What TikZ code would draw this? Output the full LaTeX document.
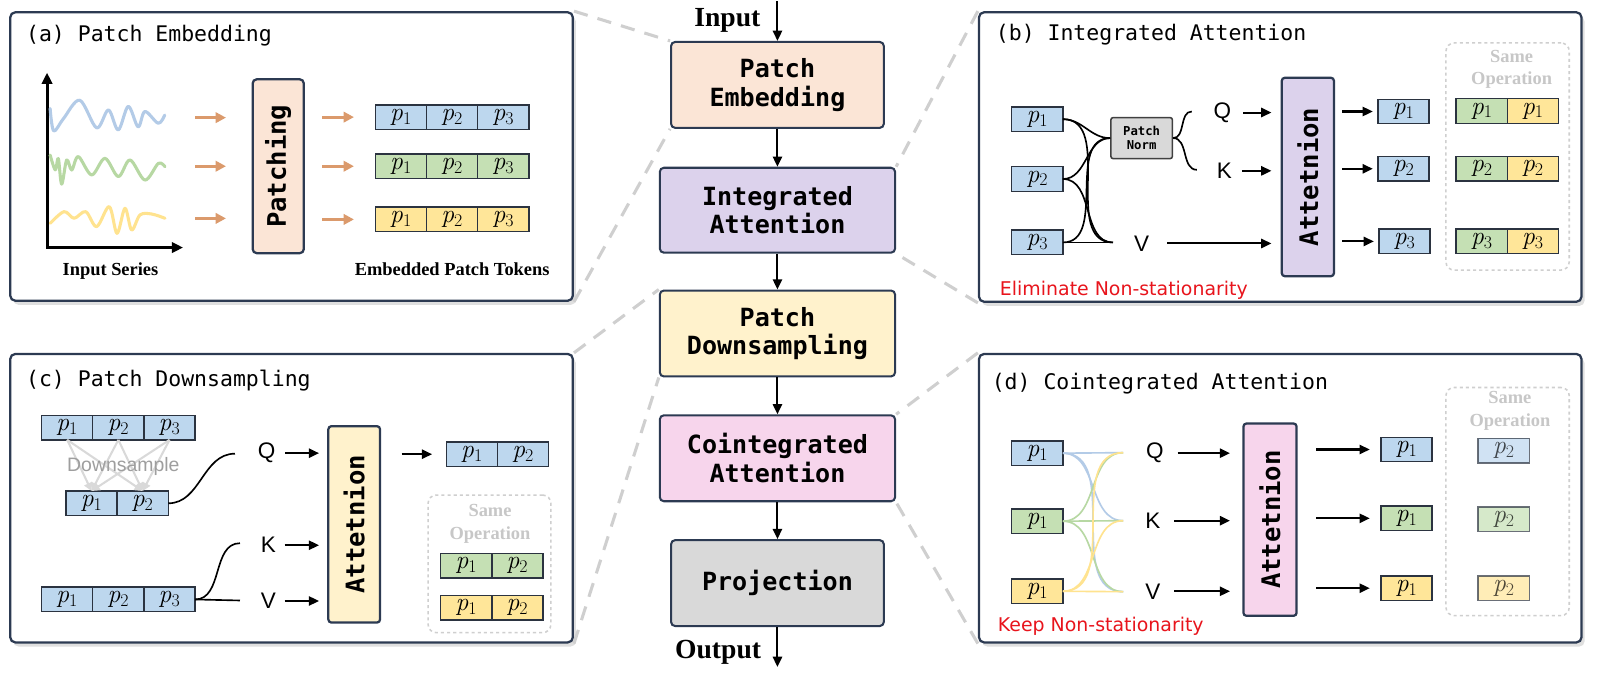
\documentclass[tikz,border=0pt]{standalone}
\usepackage{fontspec}
\usetikzlibrary{positioning,arrows.meta,shadows}

\newfontfamily\monofont{DejaVu Sans Mono}
\newfontfamily\timesfont{Liberation Serif}
\newfontfamily\arialfont{Liberation Sans}
\newfontfamily\dejafont{DejaVu Sans}

\definecolor{frame}{HTML}{2C3A52}
\definecolor{tokline}{HTML}{2B3340}
\definecolor{peach}{HTML}{FBE5D6}
\definecolor{lav}{HTML}{DCD2EC}
\definecolor{lyel}{HTML}{FFF2CC}
\definecolor{pinkc}{HTML}{F7D5EC}
\definecolor{greyc}{HTML}{D9D9D9}
\definecolor{tblue}{HTML}{BDD7EE}
\definecolor{tgreen}{HTML}{C5E0B4}
\definecolor{tyel}{HTML}{FFE699}
\definecolor{orng}{HTML}{DB9A6C}
\definecolor{wblue}{HTML}{B3CBE7}
\definecolor{wgreen}{HTML}{B7D8A3}
\definecolor{wyel}{HTML}{FFE38F}
\definecolor{dashg}{HTML}{CFCFCF}
\definecolor{redt}{HTML}{E8141C}

\newcommand{\titlefont}{\monofont\fontsize{21}{24}\selectfont}
\newcommand{\stagefont}{\monofont\bfseries\fontsize{24.5}{28}\selectfont}
\newcommand{\attnfont}{\monofont\bfseries\fontsize{25}{28}\selectfont}
\newcommand{\normfont}{\monofont\bfseries\fontsize{12}{14}\selectfont}
\newcommand{\tokfont}{\fontsize{25}{26}\selectfont}
\newcommand{\qkvfont}{\arialfont\fontsize{22}{24}\selectfont}
\newcommand{\capfont}{\timesfont\bfseries\fontsize{18}{22}\selectfont}
\newcommand{\iofont}{\timesfont\bfseries\fontsize{27}{30}\selectfont}
\newcommand{\notefont}{\dejafont\fontsize{18.5}{22}\selectfont}
\newcommand{\downfont}{\arialfont\fontsize{19}{22}\selectfont}
\newcommand{\tokp}[1]{\textit{p}\textsubscript{#1}}

\begin{document}
\begin{tikzpicture}[
    x=1pt, y=-1pt,
    panel/.style={draw=frame, line width=2.2pt, rounded corners=5pt, fill=white, inner sep=0pt,
      drop shadow={shadow xshift=3pt, shadow yshift=-4pt, opacity=0.25}},
    stage/.style={draw=frame, line width=2pt, rounded corners=4pt, font=\stagefont, align=center, inner sep=0pt},
    attn/.style={draw=frame, line width=2.2pt, rounded corners=3pt, font=\attnfont, minimum width=51pt, inner sep=0pt},
    tok/.style={draw=tokline, line width=1.4pt, minimum width=50pt, minimum height=24pt, inner sep=0pt, outer sep=0pt, font=\tokfont},
    samebox/.style={draw=dashg, dashed, line width=1.5pt, rounded corners=8pt, inner sep=0pt},
    sametext/.style={font=\capfont, text=black!22, align=center},
    title/.style={anchor=west, font=\titlefont},
    qkv/.style={font=\qkvfont},
    note/.style={anchor=base west, font=\notefont, text=redt},
    flow/.style={-{Triangle[length=10pt,width=9pt]}, line width=2pt},
    orarrow/.style={-{Triangle[length=10pt,width=10pt]}, line width=3pt, draw=orng},
    wave/.style={line width=3pt, line cap=round, line join=round},
    curve/.style={line width=1.6pt},
    link/.style={draw=dashg, line width=3pt, dash pattern=on 14pt off 10pt}
  ]
  \useasboundingbox (0,0) rectangle (1568,661);

  % panels
  \node[panel, minimum width=550pt, minimum height=282pt] (pa) at (285,153) {};
  \node[panel, minimum width=589pt, minimum height=283pt] (pb) at (1251.5,153.5) {};
  \node[panel, minimum width=550pt, minimum height=282pt] (pc) at (285,487) {};
  \node[panel, minimum width=589pt, minimum height=282pt] (pd) at (1251.5,487) {};

  % centre column
  \node[stage, fill=peach, minimum width=208pt, minimum height=84pt] (pe) at (760,83) {Patch\\Embedding};
  \node[stage, fill=lav, minimum width=230pt, minimum height=83pt] (ia) at (760,205.5) {Integrated\\Attention};
  \node[stage, fill=lyel, minimum width=230pt, minimum height=84pt] (pds) at (760,326) {Patch\\Downsampling};
  \node[stage, fill=pinkc, minimum width=230pt, minimum height=84pt] (ca) at (760,448) {Cointegrated\\Attention};
  \node[stage, fill=greyc, minimum width=208pt, minimum height=84pt] (pj) at (760,570) {Projection};
  \coordinate (in) at (760,1);
  \coordinate (out) at (760,652);
  \node[font=\iofont] (inlabel) at (711,20) {Input};
  \node[font=\iofont] (outlabel) at (702,638) {Output};
  \draw[flow] (in) -- (pe);
  \draw[flow] (pe) -- (ia);
  \draw[flow] (ia) -- (pds);
  \draw[flow] (pds) -- (ca);
  \draw[flow] (ca) -- (pj);
  \draw[flow] (pj) -- (out);

  % links to the panels
  \draw[link] (pa.north east) -- (pe.north west);
  \draw[link] (pa.south east) -- (pe.south west);
  \draw[link] (pb.north west) -- (ia.north east);
  \draw[link] (pb.south west) -- (ia.south east);
  \draw[link] (pc.north east) -- (pds.north west);
  \draw[link] (pc.south east) -- (pds.south west);
  \draw[link] (pd.north west) -- (ca.north east);
  \draw[link] (pd.south west) -- (ca.south east);

  % (a) patch embedding
  \node[title] (ta) at (22,35) {(a) Patch Embedding};
  \coordinate (ao) at (46,242);
  \coordinate (ay) at (46,71);
  \coordinate (ax) at (179,242);
  \draw[line width=3pt, {Triangle[length=11pt,width=10pt]}-{Triangle[length=11pt,width=10pt]}] (ay) -- (ao) -- (ax);
  \draw[wave, wblue] plot[smooth, tension=0.55] coordinates {(49,106) (52.5,128) (62,116) (78,98) (94.5,125) (106,107.5) (115.6,127) (125.4,104) (135,124) (141.7,109) (154.7,120.5) (161,112.5)};
  \draw[wave, wgreen] plot[smooth, tension=0.55] coordinates {(49,151.5) (54,166) (57,155) (60.3,180) (65.2,156.4) (70.1,166.2) (76.6,153.1) (89.6,171) (102.6,154.8) (115.7,172.6) (127.1,156.4) (141.7,176) (154.8,159.7) (161.3,163)};
  \draw[wave, wyel] plot[smooth, tension=0.55] coordinates {(49.1,218.3) (62.6,206.9) (72.4,213.4) (83.8,206.9) (94.5,221.5) (106.8,202) (114.4,228.1) (122.2,203.6) (128.7,224.8) (136.9,210.1) (148.2,209.2) (161.3,213.4)};
  \node[stage, fill=peach, line width=2.2pt, font=\attnfont, minimum width=50pt, minimum height=170pt] (patch) at (272,162.5) {\rotatebox{90}{Patching}};
  \node[tok, fill=tblue] (a1) at (392,114.5) {\tokp{1}};
  \node[tok, fill=tblue, right=0pt of a1] (a2) {\tokp{2}};
  \node[tok, fill=tblue, right=0pt of a2] (a3) {\tokp{3}};
  \node[tok, fill=tgreen] (a4) at (392,162.5) {\tokp{1}};
  \node[tok, fill=tgreen, right=0pt of a4] (a5) {\tokp{2}};
  \node[tok, fill=tgreen, right=0pt of a5] (a6) {\tokp{3}};
  \node[tok, fill=tyel] (a7) at (392,214.5) {\tokp{1}};
  \node[tok, fill=tyel, right=0pt of a7] (a8) {\tokp{2}};
  \node[tok, fill=tyel, right=0pt of a8] (a9) {\tokp{3}};
  \coordinate (s1) at (191,115);
  \coordinate (s2) at (191,162.5);
  \coordinate (s3) at (191,213.5);
  \draw[orarrow, shorten >=25pt] (s1) -- (s1 -| patch.west);
  \draw[orarrow, shorten >=25pt] (s2) -- (s2 -| patch.west);
  \draw[orarrow, shorten >=25pt] (s3) -- (s3 -| patch.west);
  \draw[orarrow, shorten <=17pt, shorten >=21pt] (patch.east |- a1) -- (a1.west);
  \draw[orarrow, shorten <=17pt, shorten >=21pt] (patch.east |- a4) -- (a4.west);
  \draw[orarrow, shorten <=17pt, shorten >=21pt] (patch.east |- a7) -- (a7.west);
  \node[font=\capfont] (series) at (108,265) {Input Series};
  \node[font=\capfont] (tokens) at (442,263) {Embedded Patch Tokens};

  % (b) integrated attention
  \node[title] (tb) at (970,34) {(b) Integrated Attention};
  \node[tok, fill=tblue] (b1) at (1014,116.5) {\tokp{1}};
  \node[tok, fill=tblue] (b2) at (1014,175) {\tokp{2}};
  \node[tok, fill=tblue] (b3) at (1014,237) {\tokp{3}};
  \node[draw=black!75, fill=greyc, line width=1.5pt, rounded corners=2pt, font=\normfont, align=center,
    minimum width=60pt, minimum height=40pt, inner sep=0pt] (norm) at (1116,135) {Patch\\Norm};
  \coordinate (vin) at (1088,237);
  \coordinate (bq) at (1165,109);
  \coordinate (bk) at (1170,166);
  \draw[curve] (b1.east) to[out=0, in=180] (norm.west);
  \draw[curve] (b2.east) to[out=0, in=180] (norm.west);
  \draw[curve] (b3.east) to[out=0, in=180] (norm.west);
  \draw[curve] (b1.east) to[out=0, in=180] (vin);
  \draw[curve] (b2.east) to[out=0, in=180] (vin);
  \draw[curve] (b3.east) -- (vin);
  \draw[curve] (norm.east) to[out=0, in=180] (bq);
  \draw[curve] (norm.east) to[out=0, in=180] (bk);
  \node[qkv] (qb) at (1195,110) {Q};
  \node[qkv] (kb) at (1197,167) {K};
  \node[qkv] (vb) at (1116,238) {V};
  \node[attn, fill=lav, minimum height=194pt] (attb) at (1278.5,173) {\rotatebox{90}{Attetnion}};
  \draw[flow, shorten <=8pt, shorten >=9pt] (qb) -- (qb -| attb.west);
  \draw[flow, shorten <=6pt, shorten >=9pt] (kb) -- (kb -| attb.west);
  \draw[flow, shorten <=14pt, shorten >=9pt] (vb) -- (vb -| attb.west);
  \node[tok, fill=tblue] (ob1) at (1372,109) {\tokp{1}};
  \node[tok, fill=tblue] (ob2) at (1372,165) {\tokp{2}};
  \node[tok, fill=tblue] (ob3) at (1373,236) {\tokp{3}};
  \draw[flow, shorten <=7pt, shorten >=5pt] (attb.east |- ob1) -- (ob1.west);
  \draw[flow, shorten <=7pt, shorten >=5pt] (attb.east |- ob2) -- (ob2.west);
  \draw[flow, shorten <=7pt, shorten >=5pt] (attb.east |- ob3) -- (ob3.west);
  \node[samebox, minimum width=120.5pt, minimum height=222pt] (sameb) at (1473.75,153) {};
  \node[sametext] (sametb) at (1477.7,68) {Same\\Operation};
  \node[tok, fill=tgreen] (gb1) at (1448.5,108.5) {\tokp{1}};
  \node[tok, fill=tyel, right=0pt of gb1] (yb1) {\tokp{1}};
  \node[tok, fill=tgreen] (gb2) at (1448.5,164.8) {\tokp{2}};
  \node[tok, fill=tyel, right=0pt of gb2] (yb2) {\tokp{2}};
  \node[tok, fill=tgreen] (gb3) at (1448.5,235.8) {\tokp{3}};
  \node[tok, fill=tyel, right=0pt of gb3] (yb3) {\tokp{3}};
  \node[note] (noteb) at (974,289) {Eliminate Non-stationarity};

  % (c) patch downsampling
  \node[title] (tc) at (22,372) {(c) Patch Downsampling};
  \node[tok, fill=tblue] (c1) at (65.7,418) {\tokp{1}};
  \node[tok, fill=tblue, right=0pt of c1] (c2) {\tokp{2}};
  \node[tok, fill=tblue, right=0pt of c2] (c3) {\tokp{3}};
  \node[tok, fill=tblue] (d1) at (89.5,492) {\tokp{1}};
  \node[tok, fill=tblue, right=0pt of d1] (d2) {\tokp{2}};
  \draw[-{Triangle[length=8pt,width=8pt]}, line width=2pt, black!15] (c1.south) -- (d1.north);
  \draw[-{Triangle[length=8pt,width=8pt]}, line width=2pt, black!15] (c1.south) -- (d2.north);
  \draw[-{Triangle[length=8pt,width=8pt]}, line width=2pt, black!15] (c2.south) -- (d1.north);
  \draw[-{Triangle[length=8pt,width=8pt]}, line width=2pt, black!15] (c2.south) -- (d2.north);
  \draw[-{Triangle[length=8pt,width=8pt]}, line width=2pt, black!15] (c3.south) -- (d1.north);
  \draw[-{Triangle[length=8pt,width=8pt]}, line width=2pt, black!15] (c3.south) -- (d2.north);
  \node[font=\downfont, text=black!38] (down) at (120.6,456) {Downsample};
  \node[tok, fill=tblue] (e1) at (65.7,586) {\tokp{1}};
  \node[tok, fill=tblue, right=0pt of e1] (e2) {\tokp{2}};
  \node[tok, fill=tblue, right=0pt of e2] (e3) {\tokp{3}};
  \coordinate (qc) at (229.7,443.5);
  \coordinate (kc) at (234.6,531);
  \coordinate (vc) at (234.6,587);
  \draw[curve] (d2.east) to[out=0, in=180] (qc);
  \draw[curve] (e3.east) to[out=0, in=180] (kc);
  \draw[curve] (e3.east) -- (vc);
  \node[qkv] (qcl) at (260.7,443) {Q};
  \node[qkv] (kcl) at (262.3,533) {K};
  \node[qkv] (vcl) at (262.3,587.5) {V};
  \node[attn, fill=lyel, minimum width=50.5pt, minimum height=192pt] (attc) at (346.25,512.6) {\rotatebox{90}{Attetnion}};
  \draw[flow, shorten <=6pt, shorten >=8pt] (qcl) -- (qcl -| attc.west);
  \draw[flow, shorten <=5pt, shorten >=8pt] (kcl) -- (kcl -| attc.west);
  \draw[flow, shorten <=5pt, shorten >=8pt] (vcl) -- (vcl -| attc.west);
  \node[tok, fill=tblue] (oc1) at (461.4,444) {\tokp{1}};
  \node[tok, fill=tblue, right=0pt of oc1] (oc2) {\tokp{2}};
  \draw[flow, shorten <=20pt, shorten >=14pt] (attc.east |- oc1) -- (oc1.west);
  \node[samebox, minimum width=120pt, minimum height=134.5pt] (samec) at (478.5,551.2) {};
  \node[sametext] (sametc) at (479,512) {Same\\Operation};
  \node[tok, fill=tgreen] (f1) at (455.8,553) {\tokp{1}};
  \node[tok, fill=tgreen, right=0pt of f1] (f2) {\tokp{2}};
  \node[tok, fill=tyel] (g1) at (455.8,594) {\tokp{1}};
  \node[tok, fill=tyel, right=0pt of g1] (g2) {\tokp{2}};

  % (d) cointegrated attention
  \node[title] (td) at (966,375) {(d) Cointegrated Attention};
  \node[tok, fill=tblue] (h1) at (1014,443) {\tokp{1}};
  \node[tok, fill=tgreen] (h2) at (1014,509.5) {\tokp{1}};
  \node[tok, fill=tyel] (h3) at (1014,578) {\tokp{1}};
  \coordinate (tq) at (1098,442.5);
  \coordinate (tk) at (1098,509);
  \coordinate (tv) at (1098,578.4);
  \draw[curve, wblue] (h1.east) -- (tq);
  \draw[curve, wblue] (h1.east) to[out=0, in=180] (tk);
  \draw[curve, wblue] (h1.east) to[out=0, in=180] (tv);
  \draw[curve, wgreen] (h2.east) to[out=0, in=180] (tq);
  \draw[curve, wgreen] (h2.east) -- (tk);
  \draw[curve, wgreen] (h2.east) to[out=0, in=180] (tv);
  \draw[curve, wyel] (h3.east) to[out=0, in=180] (tq);
  \draw[curve, wyel] (h3.east) to[out=0, in=180] (tk);
  \draw[curve, wyel] (h3.east) -- (tv);
  \node[qkv] (qd) at (1129,443) {Q};
  \node[qkv] (kd) at (1127,509) {K};
  \node[qkv] (vd) at (1127,578) {V};
  \node[attn, fill=pinkc, minimum width=52pt, minimum height=188pt] (attd) at (1241.5,508) {\rotatebox{90}{Attetnion}};
  \draw[flow, shorten <=10pt, shorten >=12pt] (qd) -- (qd -| attd.west);
  \draw[flow, shorten <=10pt, shorten >=12pt] (kd) -- (kd -| attd.west);
  \draw[flow, shorten <=10pt, shorten >=12pt] (vd) -- (vd -| attd.west);
  \node[tok, fill=tblue] (od1) at (1375,439.4) {\tokp{1}};
  \node[tok, fill=tgreen] (od2) at (1375,506.7) {\tokp{1}};
  \node[tok, fill=tyel] (od3) at (1375,575) {\tokp{1}};
  \draw[flow, shorten <=18pt, shorten >=11pt] (attd.east |- od1) -- (od1.west);
  \draw[flow, shorten <=18pt, shorten >=11pt] (attd.east |- od2) -- (od2.west);
  \draw[flow, shorten <=18pt, shorten >=11pt] (attd.east |- od3) -- (od3.west);
  \node[samebox, minimum width=120.5pt, minimum height=223pt] (samed) at (1473.75,490.3) {};
  \node[sametext] (sametd) at (1476,401.5) {Same\\Operation};
  \node[tok, fill=tblue, opacity=0.7] (pd1) at (1470,440.4) {\tokp{2}};
  \node[tok, fill=tgreen, opacity=0.7] (pd2) at (1470,507.5) {\tokp{2}};
  \node[tok, fill=tyel, opacity=0.7] (pd3) at (1470,575) {\tokp{2}};
  \node[note] (noted) at (972,617) {Keep Non-stationarity};
\end{tikzpicture}
\end{document}
